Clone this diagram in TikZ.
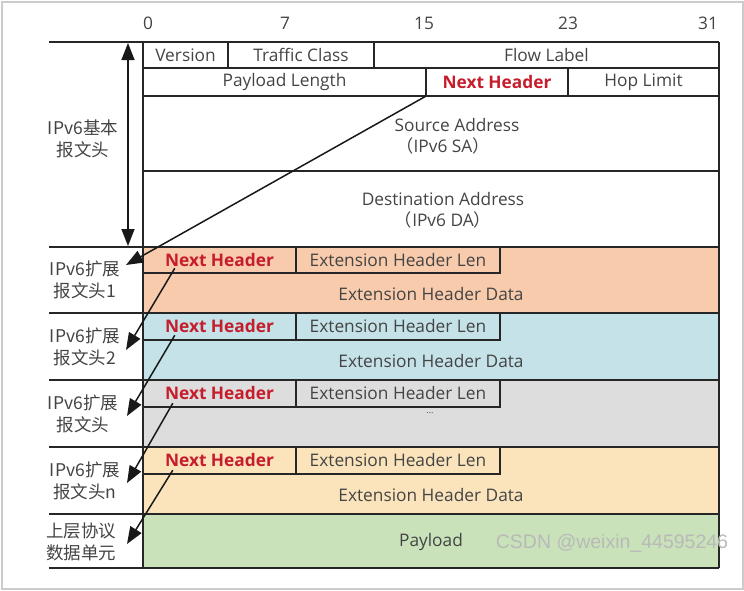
\documentclass[tikz,border=0pt]{standalone}
\usepackage{fontspec}
\setmainfont{Open Sans}
\newfontfamily\cjk{Noto Sans CJK SC}
\newfontfamily\wmfont{Liberation Sans}
\usetikzlibrary{arrows.meta,calc}

\definecolor{nhred}{HTML}{C61D2C}
\definecolor{txtgray}{HTML}{444444}
\definecolor{extorange}{HTML}{F8CBAD}
\definecolor{extblue}{HTML}{C4E2E7}
\definecolor{extgray}{HTML}{DDDDDD}
\definecolor{extyellow}{HTML}{FBE4BC}
\definecolor{upgreen}{HTML}{C9E2BA}

\tikzset{
  field/.style={text=txtgray, font=\fontsize{17.3}{19}\selectfont, inner sep=0pt},
  nhfield/.style={text=nhred, font=\bfseries\fontsize{17.3}{19}\selectfont, inner sep=0pt},
  sidelabel/.style={text=txtgray, align=center, font=\cjk\fontsize{17.5}{22.5}\selectfont, inner sep=0pt},
  rule/.style={draw=black!85, line width=1.5pt},
  nextarrow/.style={black!90, line width=1.5pt, -{Triangle[length=17pt,width=13pt]}},
}

\begin{document}
\begin{tikzpicture}[x=1pt,y=-1pt]
            \useasboundingbox (0,0) rectangle (744,590);
            \draw[gray!40, line width=2pt] (1.5,1.5) rectangle (742.5,588.5);

            % bit positions
            \node[field] (b0) at (148,23) {0};
            \node[field] (b7) at (285,23) {7};
            \node[field] (b15) at (424,23) {15};
            \node[field] (b23) at (568,23) {23};
            \node[field] (b31) at (708,23) {31};

            % coloured blocks
            \fill[extorange] (143,247) rectangle (719,313);
            \fill[extblue] (143,313) rectangle (719,380);
            \fill[extgray] (143,380) rectangle (719,447);
            \fill[extyellow] (143,447) rectangle (719,514);
            \fill[upgreen] (143,514) rectangle (719,568);

            % basic header
            \draw[rule] (49,42) -- (719,42);
            \draw[rule] (143,68) -- (719,68);
            \draw[rule] (143,96) -- (719,96);
            \draw[rule] (143,171) -- (719,171);
            \draw[rule] (228,42) -- (228,68);
            \draw[rule] (374,42) -- (374,68);
            \draw[rule] (426,68) -- (426,96);
            \draw[rule] (568,68) -- (568,96);

            \node[field] (ver) at (185.5,55) {Version};
            \node[field] (tc) at (301,55) {Traffic Class};
            \node[field] (fl) at (546.5,55) {Flow Label};
            \node[field] (pl) at (284.5,82) {Payload Length};
            \node[nhfield, minimum width=142pt, minimum height=28pt] (nh0) at (497,82) {Next Header};
            \node[field] (hop) at (643.5,82) {Hop Limit};
            \node[field] (sa) at (457,125) {Source Address};
            \node[field] (sa2) at (443,146) {{\cjk （}IPv6 SA{\cjk ）}};
            \node[field] (da) at (443,199) {Destination Address};
            \node[field] (da2) at (443,220) {{\cjk （}IPv6 DA{\cjk ）}};

            % extension headers and payload
            \draw[rule] (49,247) -- (719,247);
            \draw[rule] (49,313) -- (719,313);
            \draw[rule] (49,380) -- (719,380);
            \draw[rule] (49,447) -- (719,447);
            \draw[rule] (49,514) -- (719,514);
            \draw[rule] (49,568) -- (719,568);
            \draw[rule] (143,42) -- (143,568);
            \draw[rule] (719,42) -- (719,568);

            \draw[rule] (143,273) -- (500,273) -- (500,247);
            \draw[rule] (296,247) -- (296,273);
            \node[nhfield, minimum width=153pt, minimum height=26pt] (nh1) at (219.5,260) {Next Header};
            \node[field] (len1) at (398,260) {Extension Header Len};
            \node[field] (data1) at (431,294) {Extension Header Data};

            \draw[rule] (143,340) -- (500,340) -- (500,313);
            \draw[rule] (296,313) -- (296,340);
            \node[nhfield, minimum width=153pt, minimum height=27pt] (nh2) at (219.5,326.5) {Next Header};
            \node[field] (len2) at (398,326.5) {Extension Header Len};
            \node[field] (data2) at (431,361) {Extension Header Data};

            \draw[rule] (143,407) -- (500,407) -- (500,380);
            \draw[rule] (296,380) -- (296,407);
            \node[nhfield, minimum width=153pt, minimum height=27pt] (nh3) at (219.5,393.5) {Next Header};
            \node[field] (len3) at (398,393.5) {Extension Header Len};
            \node[field, text=black!70, font=\fontsize{9}{9}\selectfont] (dots) at (430,413) {...};

            \draw[rule] (143,474) -- (500,474) -- (500,447);
            \draw[rule] (296,447) -- (296,474);
            \node[nhfield, minimum width=153pt, minimum height=27pt] (nh4) at (219.5,460.5) {Next Header};
            \node[field] (len4) at (398,460.5) {Extension Header Len};
            \node[field] (data4) at (431,495) {Extension Header Data};

            \node[field] (pay) at (431,542) {Payload};

            % side labels
            \node[sidelabel] (basic) at (83,139) {IPv6基本\\报文头};
            \node[sidelabel] (ext1) at (85,280) {IPv6扩展\\报文头1};
            \node[sidelabel] (ext2) at (85,347) {IPv6扩展\\报文头2};
            \node[sidelabel] (ext3) at (83,414) {IPv6扩展\\报文头};
            \node[sidelabel] (extn) at (85,481) {IPv6扩展\\报文头n};
            \node[sidelabel] (upl) at (81,542) {上层协议\\数据单元};

            % header length arrow
            \coordinate (basetop) at (128,43);
            \coordinate (basebot) at (128,246);
            \draw[black!90, line width=1.5pt, {Triangle[length=17pt,width=13pt]}-{Triangle[length=17pt,width=13pt]}] (basetop) -- (basebot);

            % next header chain
            \coordinate (tip1) at (126,265);
            \coordinate (tip2) at (126,350);
            \coordinate (tip3) at (127,416);
            \coordinate (tip4) at (127,483);
            \coordinate (tip5) at (127,544);
            \draw[nextarrow] (nh0.south west) -- (tip1);
            \draw[nextarrow] ($(nh1.south west)+(32,-5)$) -- (tip2);
            \draw[nextarrow] ($(nh2.south west)+(32,-5)$) -- (tip3);
            \draw[nextarrow] ($(nh3.south west)+(30,-4)$) -- (tip4);
            \draw[nextarrow] ($(nh4.south west)+(30,-4)$) -- (tip5);

            \node[text=gray!55, font=\wmfont\fontsize{19.5}{21}\selectfont, inner sep=0pt] (wm) at (612,543) {CSDN @weixin\_44595246};
\end{tikzpicture}
\end{document}
